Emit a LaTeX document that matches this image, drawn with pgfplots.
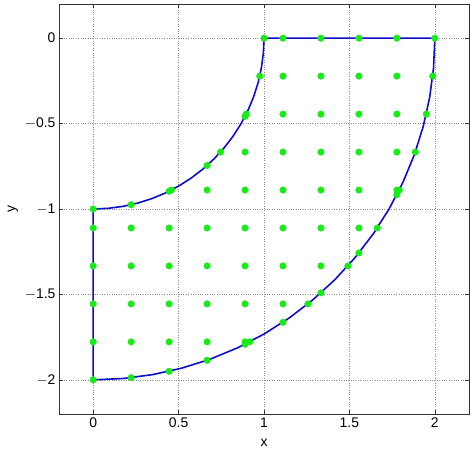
\documentclass[border=0pt]{standalone}
\usepackage{fontspec}
\setmainfont{Liberation Sans}
\usepackage{pgfplots}
\pgfplotsset{compat=1.18}

\definecolor{ptgreen}{rgb}{0.1,0.92,0.1}
\definecolor{lnblue}{rgb}{0.05,0.05,0.8}

% grid points (h = 2/9) and boundary intersections
\pgfplotstableread{
x y
1.11111 0
1.33333 0
1.55556 0
1.77778 0
2.00000 0
1.00000 0
1.11111 -0.22222
1.33333 -0.22222
1.55556 -0.22222
1.77778 -0.22222
1.11111 -0.44444
1.33333 -0.44444
1.55556 -0.44444
1.77778 -0.44444
0.88889 -0.66667
1.11111 -0.66667
1.33333 -0.66667
1.55556 -0.66667
1.77778 -0.66667
0.66667 -0.88889
0.88889 -0.88889
1.11111 -0.88889
1.33333 -0.88889
1.55556 -0.88889
1.77778 -0.88889
0 -1.11111
0.22222 -1.11111
0.44444 -1.11111
0.66667 -1.11111
0.88889 -1.11111
1.11111 -1.11111
1.33333 -1.11111
1.55556 -1.11111
0 -1.33333
0.22222 -1.33333
0.44444 -1.33333
0.66667 -1.33333
0.88889 -1.33333
1.11111 -1.33333
1.33333 -1.33333
0 -1.55556
0.22222 -1.55556
0.44444 -1.55556
0.66667 -1.55556
0.88889 -1.55556
1.11111 -1.55556
0 -1.77778
0.22222 -1.77778
0.44444 -1.77778
0.66667 -1.77778
0.88889 -1.77778
0 -2.00000
0 -1.00000
0.22222 -0.97500
0.44444 -0.89581
0.45812 -0.88889
0.66667 -0.74536
0.74536 -0.66667
0.88889 -0.45812
0.89581 -0.44444
0.97500 -0.22222
0.22222 -1.98762
0.44444 -1.95000
0.66667 -1.88562
0.88889 -1.79162
1.11111 -1.66296
1.33333 -1.49071
1.55556 -1.25708
1.77778 -0.91625
1.98762 -0.22222
1.95000 -0.44444
1.88562 -0.66667
1.79162 -0.88889
1.66296 -1.11111
1.49071 -1.33333
1.25708 -1.55556
0.91625 -1.77778
}\pts

% boundary of the domain
\pgfplotstableread{
x y
0 -1
0 -2
0.17431 -1.99239
0.34730 -1.96962
0.51764 -1.93185
0.68404 -1.87939
0.84524 -1.81262
1.00000 -1.73205
1.14715 -1.63830
1.28558 -1.53209
1.41421 -1.41421
1.53209 -1.28558
1.63830 -1.14715
1.73205 -1.00000
1.81262 -0.84524
1.87939 -0.68404
1.93185 -0.51764
1.96962 -0.34730
1.99239 -0.17431
2 0
1 0
0.99619 -0.08716
0.98481 -0.17365
0.96593 -0.25882
0.93969 -0.34202
0.90631 -0.42262
0.86603 -0.50000
0.81915 -0.57358
0.76604 -0.64279
0.70711 -0.70711
0.64279 -0.76604
0.57358 -0.81915
0.50000 -0.86603
0.42262 -0.90631
0.34202 -0.93969
0.25882 -0.96593
0.17365 -0.98481
0.08716 -0.99619
0 -1
}\bnd

\begin{document}
\begin{tikzpicture}
\begin{axis}[
  scale only axis,
  width=410bp, height=410bp,
  xmin=-0.2, xmax=2.2, ymin=-2.2, ymax=0.2,
  xtick={0,0.5,1,1.5,2},
  ytick={-2,-1.5,-1,-0.5,0},
  xticklabels={0,0.5,1,1.5,2},
  yticklabels={$-$2,$-$1.5,$-$1,$-$0.5,0},
  tick align=inside,
  major tick length=4bp,
  tick style={black!80, line width=0.5pt},
  axis line style={black!80, line width=0.7pt},
  grid=major,
  grid style={black!45, dotted, line width=0.6pt},
  tick label style={font=\fontsize{14}{16}\selectfont},
  every axis label/.append style={font=\fontsize{14}{16}\selectfont},
  xlabel={x}, ylabel={y},
  xlabel style={yshift=-5bp},
  clip=false,
]
\addplot[lnblue, line width=1.6pt, line join=round] table[x=x,y=y] {\bnd};
\addplot[only marks, mark=*, mark size=3.3pt, ptgreen, mark options={draw=ptgreen, fill=ptgreen}] table[x=x,y=y] {\pts};
\end{axis}
\path ([xshift=-59bp,yshift=-41bp]current axis.south west) rectangle ([xshift=5bp,yshift=4bp]current axis.north east);
\end{tikzpicture}
\end{document}
